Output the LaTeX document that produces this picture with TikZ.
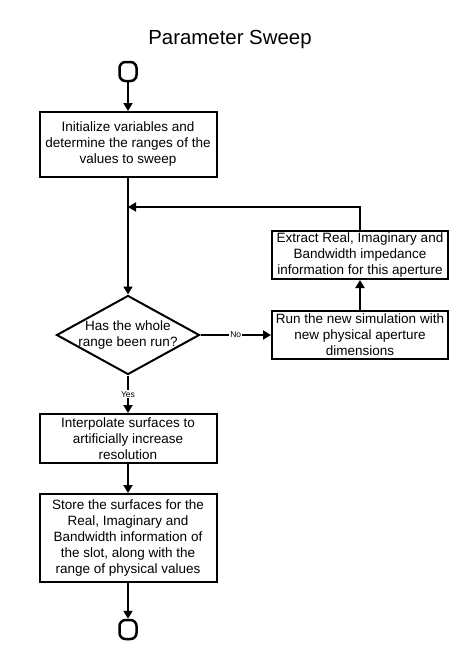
\documentclass[tikz,border=0pt]{standalone}
\usepackage{fontspec}
\setmainfont{Liberation Sans}
\usetikzlibrary{positioning,shapes.geometric,arrows.meta}

\begin{document}
\begin{tikzpicture}[x=1pt,y=-1pt,on grid,auto,line width=1.8pt,
	>={Triangle[length=8pt,width=9pt]},
	block/.style={draw,rectangle,line width=2pt,minimum width=177pt,inner sep=0pt,
		align=center,font=\fontsize{13.5}{16}\selectfont},
	term/.style={draw,rectangle,rounded corners=6pt,line width=2.5pt,
		minimum width=17pt,minimum height=19pt,inner sep=0pt},
	decision/.style={draw,diamond,aspect=1.81,line width=2pt,inner sep=-1.5pt,
		minimum width=143pt,minimum height=79pt,align=center,
		font=\fontsize{13.5}{16}\selectfont},
	answer/.style={auto=false,anchor=center,fill=white,inner sep=1pt,
		font=\fontsize{8.5}{10}\selectfont}]
	\useasboundingbox (0,0) rectangle (474,672);

	\node (title) at (230,39) {\fontsize{20.4}{24}\selectfont Parameter Sweep};

	\node[term] (start) at (128,71.5) {};
	\node[block, minimum height=65pt] (init) [below=73pt of start]
		{Initialize variables and\\determine the ranges of the\\values to sweep};
	\coordinate[below=62.5pt of init] (merge);
	\node[decision] (check) [below=190.5pt of init] {Has the whole\\range been run?};
	\node[block, minimum width=176pt, minimum height=48pt] (run) [right=232pt of check]
		{Run the new simulation with\\new physical aperture\\dimensions};
	\node[block, minimum width=176pt, minimum height=48pt] (extract) [above=80pt of run]
		{Extract Real, Imaginary and\\Bandwidth impedance\\information for this aperture};
	\node[block, minimum height=49pt] (interp) [below=103.5pt of check]
		{Interpolate surfaces to\\artificially increase\\resolution};
	\node[block, minimum height=88pt] (store) [below=99.5pt of interp]
		{Store the surfaces for the\\Real, Imaginary and\\Bandwidth information of\\the slot, along with the\\range of physical values};
	\node[term] (stop) [below=91.5pt of store] {};

	\path[->]
	(start) edge (init)
	(init) edge (check)
	(check)
	edge node[answer] {No} (run)
	edge node[answer] {Yes} (interp)
	(run) edge (extract)
	(interp) edge (store)
	(store) edge (stop);
	\draw[->] (extract.north) |- (merge);
\end{tikzpicture}
\end{document}
